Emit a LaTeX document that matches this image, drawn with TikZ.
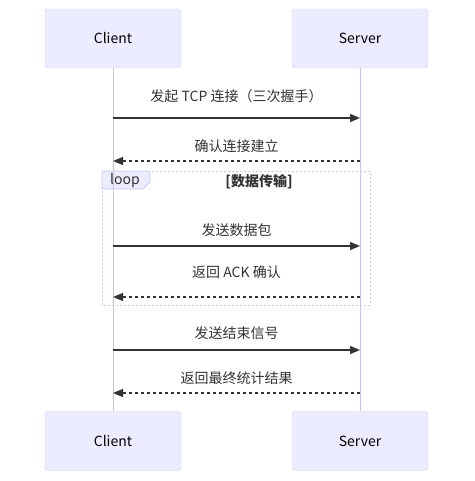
\documentclass[tikz,border=0pt]{standalone}
\usepackage{fontspec}
\setmainfont{Noto Sans CJK SC}
\usetikzlibrary{arrows.meta}
\definecolor{actorfill}{HTML}{ECECFF}
\definecolor{actorline}{HTML}{D5CCF0}
\definecolor{lifecol}{HTML}{CBC5EE}
\definecolor{loopcol}{HTML}{CDC8E6}
\definecolor{msgcol}{HTML}{333333}

\begin{document}
\begin{tikzpicture}[x=1pt, y=-1pt]
          \tikzstyle{actor}=[draw=actorline, fill=actorfill, rounded corners=3pt, minimum width=136pt, minimum height=59pt, font=\fontsize{14}{16}\selectfont]
          \tikzstyle{lifeline}=[draw=lifecol, line width=1pt]
          \tikzstyle{msg}=[draw=msgcol, line width=1.3pt, -{Triangle[length=10pt, width=8pt]}]
          \tikzstyle{reply}=[msg, dash pattern=on 3pt off 3pt]
          \tikzstyle{msglabel}=[text=msgcol, inner sep=1pt, font=\fontsize{14}{16}\selectfont]

          \useasboundingbox (0,0) rectangle (474,481);

          % loop frame
          \draw[loopcol, line width=1pt, dash pattern=on 2pt off 2pt] (102,171) rectangle (370,305);
          \draw[loopcol, fill=actorfill, line width=0.8pt] (102,171) -- (150,171) -- (150,182) -- (143,189) -- (102,189) -- cycle;
          \node[msglabel] (looptag) at (125,180.5) {loop};
          \node[msglabel, font=\fontsize{14}{16}\selectfont\bfseries] (loopcond) at (259,182) {[数据传输]};

          \node (ct) at (113,38.5) [actor] {Client};
          \node (st) at (360,38.5) [actor] {Server};
          \node (cb) at (113,441) [actor] {Client};
          \node (sb) at (360,441) [actor] {Server};

          \draw[lifeline] (ct) -- (cb);
          \draw[lifeline] (st) -- (sb);

          \coordinate (c1) at (113,118);
          \coordinate (s1) at (360,118);
          \coordinate (c2) at (113,161);
          \coordinate (s2) at (360,161);
          \coordinate (c3) at (113,246);
          \coordinate (s3) at (360,246);
          \coordinate (c4) at (113,297);
          \coordinate (s4) at (360,297);
          \coordinate (c5) at (113,350);
          \coordinate (s5) at (360,350);
          \coordinate (c6) at (113,393);
          \coordinate (s6) at (360,393);

          \node[msglabel] (l1) at (236.5,96) {发起 TCP 连接（三次握手）};
          \node[msglabel] (l2) at (236.5,146) {确认连接建立};
          \node[msglabel] (l3) at (236.5,230) {发送数据包};
          \node[msglabel] (l4) at (236.5,272) {返回 ACK 确认};
          \node[msglabel] (l5) at (236.5,333) {发送结束信号};
          \node[msglabel] (l6) at (236.5,378) {返回最终统计结果};

          \draw[msg] (c1) -- (s1);
          \draw[reply] (s2) -- (c2);
          \draw[msg] (c3) -- (s3);
          \draw[reply] (s4) -- (c4);
          \draw[msg] (c5) -- (s5);
          \draw[reply] (s6) -- (c6);
        \end{tikzpicture}
\end{document}
